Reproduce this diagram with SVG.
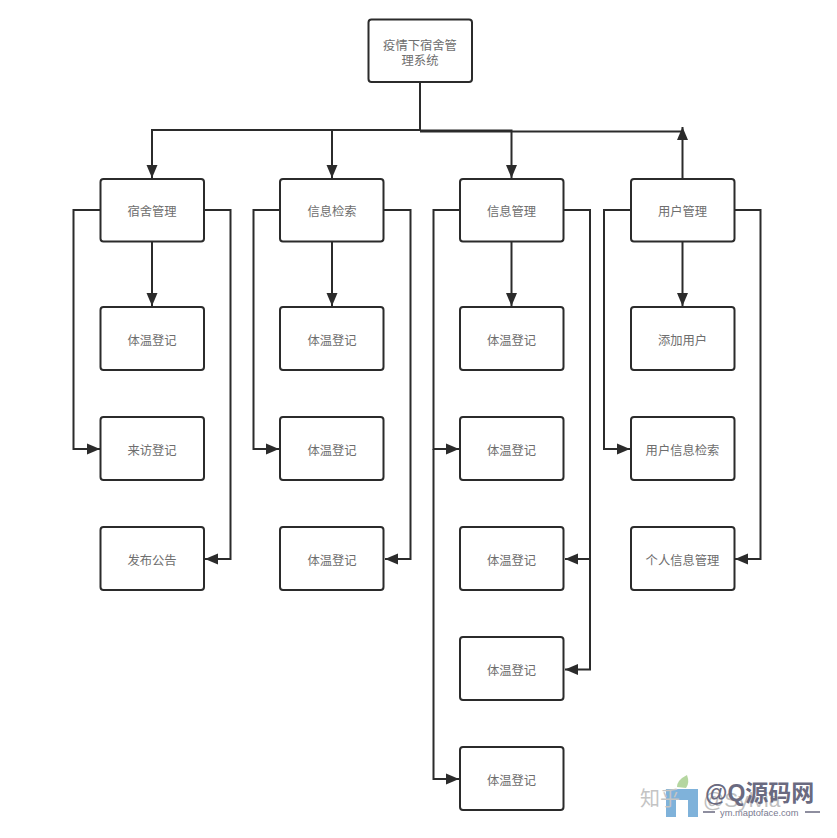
<svg xmlns="http://www.w3.org/2000/svg" width="837" height="838" viewBox="0 0 837 838">
<defs>
<marker id="a" markerUnits="userSpaceOnUse" markerWidth="14" markerHeight="12" refX="13" refY="6" orient="auto"><path d="M0 0.5L13 6L0 11.500Z" fill="#2b2b2b"/></marker>
</defs>
<style>
.b rect{fill:#fff;stroke:#2b2b2b;stroke-width:2}
.b text{font:12.300px "Noto Sans CJK SC","Liberation Serif",serif;fill:#6e6e6e;text-anchor:middle}
#connectors path{fill:none;stroke:#2b2b2b;stroke-width:2}
.w{font-family:"Liberation Sans","Noto Sans CJK SC",sans-serif}
</style>
<rect width="837" height="838" fill="#fff"/>
<g id="connectors">
<path d="M420 82V130H152V178" marker-end="url(#a)"/>
<path d="M420 130H332V178" marker-end="url(#a)"/>
<path d="M420 130.500H511.500V178" marker-end="url(#a)"/>
<path d="M420 131.500H683" />
<path d="M682.500 179V127" marker-end="url(#a)"/>
<path d="M152 241V306" marker-end="url(#a)"/>
<path d="M332 241V306" marker-end="url(#a)"/>
<path d="M511.500 241V306" marker-end="url(#a)"/>
<path d="M682.500 241V306" marker-end="url(#a)"/>
<path d="M100 210H73.500V449H100" marker-end="url(#a)"/>
<path d="M204 210H230.500V559H205" marker-end="url(#a)"/>
<path d="M280 210H253.500V449H279" marker-end="url(#a)"/>
<path d="M384 210H410.500V559H385" marker-end="url(#a)"/>
<path d="M460 210H433.500V449H459" marker-end="url(#a)"/>
<path d="M433.500 449V779H459" marker-end="url(#a)"/>
<path d="M564 210H590V559H565" marker-end="url(#a)"/>
<path d="M590 559V669.500H565" marker-end="url(#a)"/>
<path d="M631 210H604V449H630" marker-end="url(#a)"/>
<path d="M734 210H760.500V559H735" marker-end="url(#a)"/>
</g>
<g id="root" class="b"><rect x="368.500" y="19.500" width="103.500" height="62.500" rx="3"/><text x="420" y="49.500">疫情下宿舍管</text><text x="420" y="65">理系统</text></g>
<g id="n1" class="b"><rect x="100.500" y="179" width="103.500" height="62.500" rx="3"/><text x="152" y="216">宿舍管理</text></g>
<g id="n2" class="b"><rect x="100.500" y="307" width="103.500" height="63" rx="3"/><text x="152" y="344.500">体温登记</text></g>
<g id="n3" class="b"><rect x="100.500" y="417" width="103.500" height="63" rx="3"/><text x="152" y="454.500">来访登记</text></g>
<g id="n4" class="b"><rect x="100.500" y="527" width="103.500" height="63" rx="3"/><text x="152" y="564.500">发布公告</text></g>
<g id="n5" class="b"><rect x="280" y="179" width="103.500" height="62.500" rx="3"/><text x="332" y="216">信息检索</text></g>
<g id="n6" class="b"><rect x="280" y="307" width="103.500" height="63" rx="3"/><text x="332" y="344.500">体温登记</text></g>
<g id="n7" class="b"><rect x="280" y="417" width="103.500" height="63" rx="3"/><text x="332" y="454.500">体温登记</text></g>
<g id="n8" class="b"><rect x="280" y="527" width="103.500" height="63" rx="3"/><text x="332" y="564.500">体温登记</text></g>
<g id="n9" class="b"><rect x="460" y="179" width="103.500" height="62.500" rx="3"/><text x="511.500" y="216">信息管理</text></g>
<g id="n10" class="b"><rect x="460" y="307" width="103.500" height="63" rx="3"/><text x="511.500" y="344.500">体温登记</text></g>
<g id="n11" class="b"><rect x="460" y="417" width="103.500" height="63" rx="3"/><text x="511.500" y="454.500">体温登记</text></g>
<g id="n12" class="b"><rect x="460" y="527" width="103.500" height="63" rx="3"/><text x="511.500" y="564.500">体温登记</text></g>
<g id="n13" class="b"><rect x="460" y="637" width="103.500" height="63" rx="3"/><text x="511.500" y="674.500">体温登记</text></g>
<g id="n14" class="b"><rect x="460" y="747" width="103.500" height="63" rx="3"/><text x="511.500" y="784.500">体温登记</text></g>
<g id="n15" class="b"><rect x="631" y="179" width="103.500" height="62.500" rx="3"/><text x="682.500" y="216">用户管理</text></g>
<g id="n16" class="b"><rect x="631" y="307" width="103.500" height="63" rx="3"/><text x="682.500" y="344.500">添加用户</text></g>
<g id="n17" class="b"><rect x="631" y="417" width="103.500" height="63" rx="3"/><text x="682.500" y="454.500">用户信息检索</text></g>
<g id="n18" class="b"><rect x="631" y="527" width="103.500" height="63" rx="3"/><text x="682.500" y="564.500">个人信息管理</text></g>
<g id="watermark">
<path d="M677 787q0-7 10-12q3 8-1 13Z" fill="#b5d6a0"/>
<path d="M666 789H698V817H688V800H676V817H666Z" fill="#7fb2da"/>
<text x="640" y="806" class="w" font-size="20" fill="#c4c4c4">知乎</text>
<text x="703" y="807" class="w" font-size="21" fill="#c0c0c0">@Sylvia</text>
<text x="705" y="801" class="w" font-size="23" font-weight="700" fill="#6a6a80">@Q源码网</text>
<text x="720" y="816" class="w" font-size="9.300" fill="#7a7a90">ym.maptoface.com</text>
<path d="M703 812H715M805 812H820" stroke="#6a6a80" stroke-width="1.500"/>
</g>
</svg>
